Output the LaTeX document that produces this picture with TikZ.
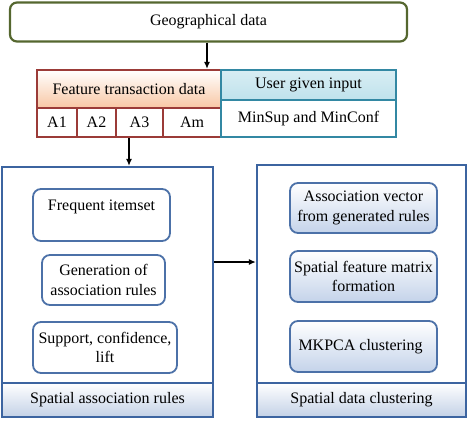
\documentclass[tikz,border=0pt]{standalone}
\usepackage{fontspec}
\setmainfont{Liberation Serif}
\usepackage{tikz}
\usetikzlibrary{positioning,arrows.meta,calc}
\definecolor{geoc}{HTML}{55672F}
\definecolor{featc}{HTML}{9B3B38}
\definecolor{featfill}{HTML}{F8C7A4}
\definecolor{userc}{HTML}{3388A3}
\definecolor{userfill}{HTML}{BFE2EC}
\definecolor{framec}{HTML}{3C64A0}
\definecolor{innerc}{HTML}{4C71A8}
\definecolor{barfill}{HTML}{C3D1E6}
\definecolor{innerfill}{HTML}{C4D3EA}
\tikzset{
  every node/.style={font=\fontsize{16}{19.5}\selectfont, inner sep=0pt, align=center},
  geobox/.style={draw=geoc, line width=2.2pt, rounded corners=7pt},
  featbox/.style={draw=featc, line width=2.2pt, top color=white, bottom color=featfill},
  cellbox/.style={draw=featc, line width=2.2pt, fill=white},
  userbox/.style={draw=userc, line width=2.2pt, top color=white!40!userfill, bottom color=userfill},
  framebox/.style={draw=framec, line width=2.2pt},
  barbox/.style={draw=framec, line width=2.2pt, top color=white, bottom color=barfill},
  plainbox/.style={draw=innerc, line width=1.8pt, rounded corners=8pt, fill=white},
  shadebox/.style={draw=innerc, line width=1.8pt, rounded corners=8pt, top color=white, bottom color=innerfill},
  flow/.style={-{Latex[length=7pt,width=6pt]}, line width=1.6pt}
}

\begin{document}
\begin{tikzpicture}[x=1pt, y=-1pt]
  \useasboundingbox (0,0) rectangle (474,445);
  % top input
  \node[geobox, minimum width=397pt, minimum height=39pt] (geo) at (208.5,22) {Geographical data};
  % transaction data and user input
  \node[featbox, minimum width=184pt, minimum height=38pt] (feat) at (129,89) {Feature transaction data};
  \node[cellbox, minimum width=40pt, minimum height=29pt] (a1) at (57,122.5) {A1};
  \node[cellbox, minimum width=39pt, minimum height=29pt] (a2) at (96.5,122.5) {A2};
  \node[cellbox, minimum width=47pt, minimum height=29pt] (a3) at (139.5,122.5) {A3};
  \node[cellbox, minimum width=58pt, minimum height=29pt] (am) at (192,122.5) {Am};
  \node[userbox, minimum width=175pt, minimum height=30pt] (user) at (308.5,85) {User given input};
  \node[framebox, draw=userc, fill=white, minimum width=175pt, minimum height=37pt] (minsup) at (308.5,118.5) {MinSup and MinConf};
  % spatial association rules
  \node[framebox, minimum width=211pt, minimum height=216pt] (lbox) at (107.5,275) {};
  \node[barbox, minimum width=211pt, minimum height=34pt] (lbar) at (107.5,400) {Spatial association rules};
  \node[plainbox, minimum width=137pt, minimum height=52pt] (freq) at (101.5,215) {Frequent itemset\\ \mbox{}};
  \node[plainbox, minimum width=123pt, minimum height=50pt] (gen) at (103.5,280) {Generation of\\association rules};
  \node[plainbox, minimum width=144pt, minimum height=51pt] (supp) at (105,347.5) {Support, confidence,\\lift};
  % spatial data clustering
  \node[framebox, minimum width=209pt, minimum height=218pt] (rbox) at (361.5,274) {};
  \node[barbox, minimum width=209pt, minimum height=34pt] (rbar) at (361.5,400) {Spatial data clustering};
  \node[shadebox, minimum width=147pt, minimum height=50pt] (assoc) at (363.5,208) {Association vector\\from generated rules};
  \node[shadebox, minimum width=147pt, minimum height=51pt] (matrix) at (363.5,276.5) {Spatial feature matrix\\formation};
  \node[shadebox, minimum width=147pt, minimum height=51pt] (mkpca) at (363.5,346.5) {MKPCA clustering\hspace*{6pt}};
  % connectors
  \draw[flow] ([xshift=-1.5pt]geo.south) -- ([xshift=-1.5pt]geo.south |- feat.north);
  \draw[flow] (feat.center |- a1.south) -- (feat.center |- lbox.north);
  \draw[flow] ([yshift=13pt]lbox.east) -- ([yshift=13pt]lbox.east -| rbox.west);
\end{tikzpicture}
\end{document}
